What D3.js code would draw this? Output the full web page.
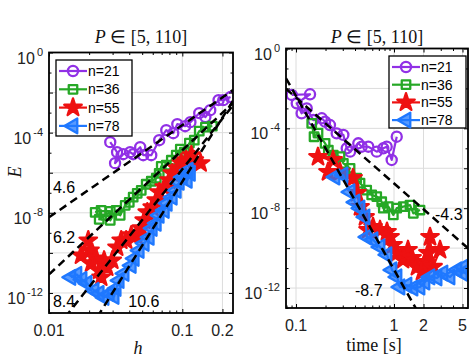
<!DOCTYPE html>
<html><head><meta charset="utf-8">
<script src="https://cdn.jsdelivr.net/npm/d3@7"></script>
<style>
html,body{margin:0;padding:0;background:#fff;}
svg{display:block;}
</style></head><body>
<svg id="chart" width="474" height="357"></svg>
<script>
// ---------------- DATA ----------------
const seriesNames = ["n=21", "n=36", "n=55", "n=78"];

// Left panel: error E versus h
const leftH21 = [0.0288,0.0324,0.0313,0.0360,0.0406,0.0428,0.0483,0.0509,0.0585,0.0671,0.0758,0.0855,0.0917,0.105,0.115,0.134,0.149,0.162,0.187,0.203,0.230];
const leftE21 = [3.35e-5,1.06e-5,3.0e-6,8.4e-6,1.06e-5,8.4e-6,1.88e-5,7.5e-6,7.5e-6,4.2e-5,1.33e-4,9.4e-5,2.66e-4,2.1e-4,3.35e-4,9.4e-4,6.0e-4,1.33e-3,4.2e-3,4.2e-3,6.0e-3];
const leftH36 = [0.0222,0.0246,0.0238,0.0264,0.0288,0.0288,0.0319,0.0342,0.0373,0.0400,0.0428,0.0459,0.0492,0.0536,0.0585,0.0638,0.0671,0.0695,0.0758,0.0827,0.0901,0.0966,0.1035,0.113,0.123,0.134,0.149,0.168];
const leftE36 = [1.06e-8,1.33e-8,4.7e-9,7.5e-9,1.19e-8,4.2e-9,1.33e-8,7.5e-9,2.37e-8,3.35e-8,6.0e-8,9.4e-8,1.33e-7,2.66e-7,3.76e-7,5.3e-7,9.4e-7,2.1e-6,2.37e-6,4.2e-6,7.5e-6,1.5e-5,1.06e-5,3.0e-5,4.2e-5,1.19e-4,1.88e-4,2.1e-4];
const leftH55 = [0.0174,0.0197,0.0203,0.0207,0.0226,0.0238,0.0246,0.0259,0.0273,0.0298,0.0324,0.0348,0.0379,0.0414,0.0451,0.0492,0.0518,0.0546,0.0595,0.0638,0.0671,0.0733,0.0798,0.0841,0.0917,0.0983,0.107,0.117,0.123,0.137];
const leftE55 = [7.5e-11,4.2e-10,1.33e-10,3.0e-11,5.3e-11,1.33e-11,6.0e-12,4.2e-11,1.88e-11,4.2e-11,1.88e-10,4.2e-10,4.2e-10,7.5e-10,7.5e-10,1.68e-9,4.2e-9,1.06e-8,1.88e-8,4.2e-8,1.06e-7,1.88e-7,4.2e-7,9.4e-7,1.68e-6,3.0e-6,4.2e-6,7.5e-6,4.2e-6,3.0e-6];
const leftH78 = [0.0146,0.0162,0.0177,0.0193,0.0218,0.0238,0.0259,0.0283,0.0308,0.0319,0.0336,0.0366,0.0414,0.0436,0.0475,0.0518,0.0565,0.0595,0.0638,0.0671,0.0733,0.0771,0.0841,0.0901,0.0949,0.100,0.109,0.115,0.111];
const leftE78 = [6.0e-12,8.4e-12,4.7e-12,3.0e-12,1.33e-12,9.4e-13,6.0e-13,9.4e-13,6.7e-13,1.68e-12,4.2e-12,9.4e-12,2.37e-11,5.3e-11,1.33e-10,3.0e-10,6.0e-10,1.68e-9,3.0e-9,7.5e-9,1.33e-8,3.0e-8,6.0e-8,1.33e-7,3.35e-7,6.0e-7,4.2e-7,9.4e-7,1.33e-6];

// Right panel: error E versus time [s]
const rightT21 = [0.0904,0.139,0.1016,0.114,0.1286,0.150,0.183,0.198,0.222,0.260,0.304,0.329,0.356,0.432,0.468,0.547,0.666,0.778,0.842,0.947,1.066];
const rightE21 = [4.7e-3,5.1e-3,1.8e-3,5.7e-4,1.0e-3,2.6e-4,3.2e-4,2.15e-4,1.47e-4,5.6e-5,4.7e-5,1.0e-5,6.8e-6,1.78e-5,1.2e-5,1.2e-5,6.8e-6,1.0e-5,1.2e-5,2.6e-6,3.8e-5];
const rightT36 = [0.1446,0.1527,0.1676,0.198,0.2137,0.240,0.281,0.304,0.356,0.316,0.416,0.450,0.526,0.592,0.666,0.749,0.778,0.875,0.984,1.066,1.244,1.456,1.574,1.842];
const rightE36 = [1.79e-4,3.8e-5,5.8e-5,1.78e-5,8.2e-6,4.6e-6,3.8e-6,1.77e-6,1.0e-6,5.6e-7,3.2e-7,1.8e-7,8.1e-8,4.6e-8,3.8e-8,2.1e-8,1.0e-8,1.19e-8,4.6e-9,1.0e-8,1.19e-8,1.44e-8,5.5e-9,8.1e-9];
const rightT55 = [0.1676,0.239,0.212,0.281,0.382,0.419,0.450,0.506,0.543,0.611,0.720,0.848,0.910,0.977,1.073,1.235,1.389,1.527,1.717,1.931,2.07,2.22,2.33,2.50,2.95];
const rightE55 = [3.7e-6,2.6e-6,6.5e-7,6.5e-7,3.25e-7,5.8e-8,1.15e-8,3.6e-9,8.1e-10,1.15e-9,8.1e-10,6.5e-10,3.6e-10,1.44e-10,5.7e-11,2.6e-11,8.1e-11,3.2e-11,1.15e-11,6.4e-12,2.0e-11,5.7e-11,3.6e-10,1.15e-11,8.1e-11];
const rightT78 = [0.250,0.302,0.356,0.400,0.450,0.506,0.530,0.611,0.720,0.848,0.954,1.073,1.151,1.357,1.563,1.842,2.07,2.33,2.75,3.16,3.73,4.39,5.0,5.1];
const rightE78 = [3.65e-7,4.6e-7,6.5e-8,2.0e-8,1.0e-8,3.6e-9,3.6e-10,2.6e-10,1.15e-10,4.6e-11,8.1e-12,3.6e-12,1.13e-12,1.4e-12,1.0e-12,1.13e-12,2.0e-12,3.6e-12,3.2e-12,5.6e-12,3.6e-12,8.1e-12,5.6e-12,1.12e-11];

// Reference slope lines: E = refE * (x/refX)^slope
const leftSlopes = [4.6, 6.2, 8.4, 10.6];
const leftRefX = [0.01, 0.01, 0.0139, 0.0238];
const leftRefE = [5.96e-9, 8.4e-12, 9.4e-14, 8.9e-14];
const leftSlopeLabels = ["4.6", "6.2", "8.4", "10.6"];
const leftSlopeLabelX = [0.0107, 0.0107, 0.0107, 0.0393];
const leftSlopeLabelE = [1.9e-7, 6.0e-10, 4.2e-13, 4.2e-13];

const rightSlopes = [-4.3, -8.7];
const rightRefX = [1, 1];
const rightRefE = [1.74e-7, 8.3e-12];
const rightSlopeLabels = ["-4.3", "-8.7"];
const rightSlopeLabelX = [2.62, 0.40];
const rightSlopeLabelE = [5.1e-9, 7.9e-13];

// Axes ticks
const leftXTicks = [0.01, 0.1, 0.2];
const leftXTickLabels = ["0.01", "0.1", "0.2"];
const rightXTicks = [0.1, 1, 2, 5];
const rightXTickLabels = ["0.1", "1", "2", "5"];
const yTickValues = [1, 1e-4, 1e-8, 1e-12];
const yTickExponents = ["0", "-4", "-8", "-12"];
const yGridValues = [1, 1e-2, 1e-4, 1e-6, 1e-8, 1e-10, 1e-12];
const yDomain = [1e-13, 1];

const panelTitle = "[5, 110]";
const leftXLabel = "h";
const rightXLabel = "time [s]";
const yLabel = "E";

// ---------------- STYLE ----------------
const colors = ["#9130e6", "#26a826", "#ee1111", "#1f78ff"];
const symbols = [d3.symbolCircle, d3.symbolSquare, d3.symbolStar, d3.symbolTriangle];
const symSizes = [80, 72, 95, 95];
const symFill = ["none", "none", "#ee1111", "#1f78ff"];
const symFillOpacity = [1, 1, 1, 0.75];
const symRotate = [0, 0, 0, -90];
const sansFont = "'Liberation Sans', Arial, Helvetica, sans-serif";
const serifFont = "'Liberation Serif', 'Times New Roman', serif";

const svg = d3.select("#chart");

const panels = [
  {
    id: "L", x0: 49, x1: 233, y0: 52.5, y1: 313, xDomain: [0.01, 0.24],
    xTicks: leftXTicks, xTickLabels: leftXTickLabels,
    xs: [leftH21, leftH36, leftH55, leftH78], ys: [leftE21, leftE36, leftE55, leftE78],
    slopes: leftSlopes, refX: leftRefX, refE: leftRefE,
    sl: leftSlopeLabels, slX: leftSlopeLabelX, slE: leftSlopeLabelE, slAnchor: "start",
    xlabel: leftXLabel, xlabelItalic: true, xlabelY: 354,
    legend: {x: 56, y: 60, w: 76, h: 76, row: 18.3}
  },
  {
    id: "R", x0: 286, x1: 468, y0: 48.5, y1: 308, xDomain: [0.079, 5.69],
    xTicks: rightXTicks, xTickLabels: rightXTickLabels,
    xs: [rightT21, rightT36, rightT55, rightT78], ys: [rightE21, rightE36, rightE55, rightE78],
    slopes: rightSlopes, refX: rightRefX, refE: rightRefE,
    sl: rightSlopeLabels, slX: rightSlopeLabelX, slE: rightSlopeLabelE, slAnchor: "start",
    xlabel: rightXLabel, xlabelItalic: false, xlabelY: 351,
    legend: {x: 389, y: 56, w: 77, h: 72, row: 17.7}
  }
];

function markerPath(i) {
  return d3.symbol().type(symbols[i]).size(symSizes[i])();
}

panels.forEach(p => {
  const x = d3.scaleLog().domain(p.xDomain).range([p.x0, p.x1]);
  const y = d3.scaleLog().domain(yDomain).range([p.y1, p.y0]);
  const g = svg.append("g");

  g.append("rect").attr("x", p.x0).attr("y", p.y0)
    .attr("width", p.x1 - p.x0).attr("height", p.y1 - p.y0).attr("fill", "#fff");

  // grid
  g.append("g").selectAll("line").data(p.xTicks).join("line")
    .attr("x1", d => x(d)).attr("x2", d => x(d)).attr("y1", p.y0).attr("y2", p.y1)
    .attr("stroke", "#dcdcdc").attr("stroke-width", 1);
  g.append("g").selectAll("line").data(yGridValues).join("line")
    .attr("x1", p.x0).attr("x2", p.x1).attr("y1", d => y(d)).attr("y2", d => y(d))
    .attr("stroke", "#dcdcdc").attr("stroke-width", 1);

  const clipId = "clip" + p.id;
  svg.append("clipPath").attr("id", clipId).append("rect")
    .attr("x", p.x0).attr("y", p.y0).attr("width", p.x1 - p.x0).attr("height", p.y1 - p.y0);
  const plot = g.append("g").attr("clip-path", `url(#${clipId})`);

  // series
  const line = d3.line().x(d => x(d[0])).y(d => y(d[1]));
  p.xs.forEach((xs, i) => {
    const pts = xs.map((v, k) => [v, p.ys[i][k]]);
    const sg = plot.append("g");
    sg.append("path").datum(pts).attr("d", line).attr("fill", "none")
      .attr("stroke", colors[i]).attr("stroke-width", 2.2).attr("stroke-linejoin", "round");
    sg.selectAll("path.m").data(pts).join("path").attr("class", "m")
      .attr("d", markerPath(i))
      .attr("transform", d => `translate(${x(d[0])},${y(d[1])}) rotate(${symRotate[i]})`)
      .attr("fill", symFill[i]).attr("fill-opacity", symFillOpacity[i])
      .attr("stroke", colors[i]).attr("stroke-width", 2.3).attr("stroke-linejoin", "round");
  });

  // dashed reference lines
  p.slopes.forEach((s, i) => {
    const f = v => p.refE[i] * Math.pow(v / p.refX[i], s);
    const pts = [p.xDomain[0], p.xDomain[1]].map(v => [v, f(v)]);
    plot.append("path").datum(pts).attr("d", line).attr("fill", "none")
      .attr("stroke", "#000").attr("stroke-width", 2.5).attr("stroke-dasharray", "8,5");
  });

  // slope labels
  p.sl.forEach((t, i) => {
    g.append("text").attr("x", x(p.slX[i])).attr("y", y(p.slE[i]) + 6)
      .attr("font-family", sansFont).attr("font-size", 16).attr("text-anchor", p.slAnchor)
      .attr("fill", "#000").text(t);
  });

  // axes ticks (inside, box on)
  const majorLen = 4, minorLen = 2.5;
  const minorX = x.ticks(20).filter(v => !p.xTicks.some(t => Math.abs(t - v) / t < 1e-6));
  const addAxis = (axis, tx, ty) => {
    const a = g.append("g").attr("transform", `translate(${tx},${ty})`).call(axis);
    a.select(".domain").remove();
    a.selectAll(".tick line").attr("stroke", "#000").attr("stroke-width", 1);
    a.selectAll(".tick text").remove();
    return a;
  };
  addAxis(d3.axisBottom(x).tickValues(p.xTicks).tickSize(-majorLen), 0, p.y1);
  addAxis(d3.axisBottom(x).tickValues(minorX).tickSize(-minorLen), 0, p.y1);
  addAxis(d3.axisTop(x).tickValues(p.xTicks).tickSize(-majorLen), 0, p.y0);
  addAxis(d3.axisTop(x).tickValues(minorX).tickSize(-minorLen), 0, p.y0);
  const yMinor = y.ticks().filter(v => Math.abs(Math.log10(v) - Math.round(Math.log10(v))) < 1e-6)
    .filter(v => Math.round(Math.log10(v)) % 2 !== 0);
  addAxis(d3.axisLeft(y).tickValues(yGridValues).tickSize(-majorLen), p.x0, 0);
  addAxis(d3.axisLeft(y).tickValues(yMinor).tickSize(-minorLen), p.x0, 0);
  addAxis(d3.axisRight(y).tickValues(yGridValues).tickSize(-majorLen), p.x1, 0);
  addAxis(d3.axisRight(y).tickValues(yMinor).tickSize(-minorLen), p.x1, 0);

  // box
  g.append("rect").attr("x", p.x0).attr("y", p.y0)
    .attr("width", p.x1 - p.x0).attr("height", p.y1 - p.y0)
    .attr("fill", "none").attr("stroke", "#000").attr("stroke-width", 1.8);

  // x tick labels
  g.append("g").selectAll("text").data(p.xTicks).join("text")
    .attr("x", d => x(d)).attr("y", p.y1 + 23)
    .attr("text-anchor", "middle").attr("font-family", sansFont).attr("font-size", 16)
    .attr("fill", "#222").text((d, i) => p.xTickLabels[i]);

  // y tick labels 10^k
  yTickValues.forEach((v, i) => {
    const t = g.append("text").attr("x", p.x0 - 6).attr("y", y(v) + 11)
      .attr("text-anchor", "end").attr("font-family", sansFont).attr("font-size", 16).attr("fill", "#222");
    t.append("tspan").text("10");
    t.append("tspan").attr("dy", -8).attr("dx", 2).attr("font-size", 11).text(yTickExponents[i]);
  });

  // title
  const cx = (p.x0 + p.x1) / 2;
  const tt = g.append("text").attr("x", cx).attr("y", 43).attr("text-anchor", "middle")
    .attr("font-family", serifFont).attr("font-size", 18).attr("fill", "#111");
  tt.append("tspan").attr("font-style", "italic").text("P");
  tt.append("tspan").text(" \u2208 " + panelTitle);

  // x label
  g.append("text").attr("x", cx - 3).attr("y", p.xlabelY).attr("text-anchor", "middle")
    .attr("font-family", serifFont).attr("font-size", 18)
    .attr("font-style", p.xlabelItalic ? "italic" : "normal").attr("fill", "#111").text(p.xlabel);

  // legend
  const L = p.legend;
  const lg = g.append("g");
  lg.append("rect").attr("x", L.x).attr("y", L.y).attr("width", L.w).attr("height", L.h)
    .attr("fill", "#fff").attr("stroke", "#000").attr("stroke-width", 1.3);
  seriesNames.forEach((n, i) => {
    const ry = L.y + 11 + i * L.row;
    lg.append("line").attr("x1", L.x + 3).attr("x2", L.x + 31).attr("y1", ry).attr("y2", ry)
      .attr("stroke", colors[i]).attr("stroke-width", 2.2);
    lg.append("path").attr("d", markerPath(i))
      .attr("transform", `translate(${L.x + 17},${ry}) rotate(${symRotate[i]})`)
      .attr("fill", symFill[i]).attr("fill-opacity", symFillOpacity[i])
      .attr("stroke", colors[i]).attr("stroke-width", 2.3).attr("stroke-linejoin", "round");
    lg.append("text").attr("x", L.x + 32).attr("y", ry + 5)
      .attr("font-family", sansFont).attr("font-size", 14).attr("fill", "#000").text(n);
  });
});

// y label (left panel only)
svg.append("text").attr("transform", "translate(21,172) rotate(-90)")
  .attr("text-anchor", "middle").attr("font-family", serifFont).attr("font-size", 18)
  .attr("font-style", "italic").attr("fill", "#111").text(yLabel);
</script>
</body></html>
